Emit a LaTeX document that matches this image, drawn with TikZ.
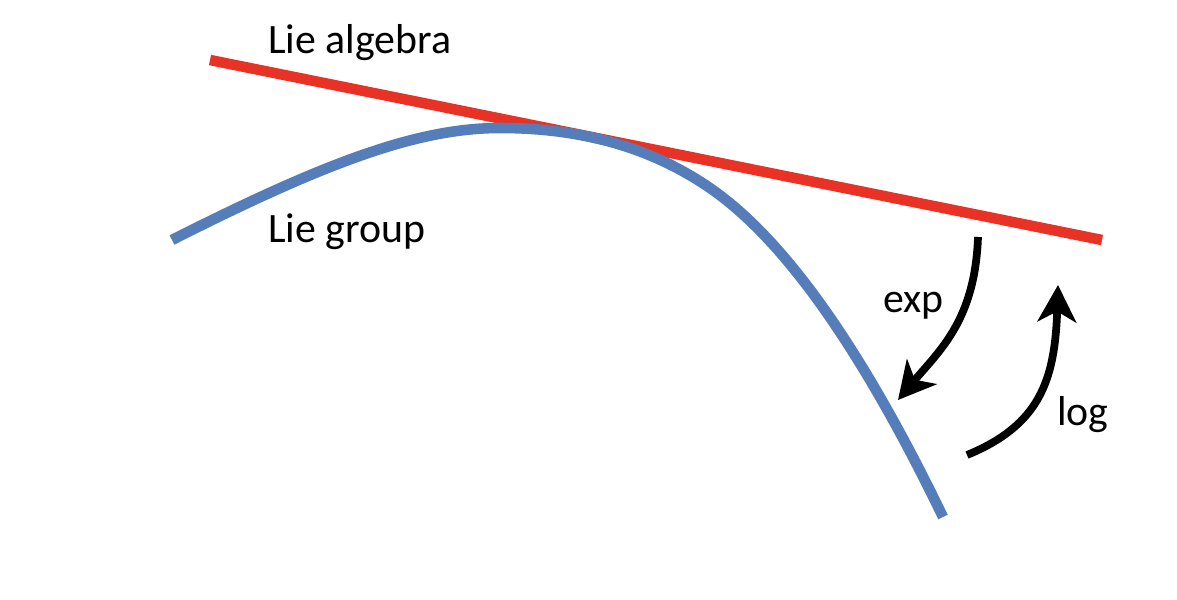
\documentclass[tikz,border=0pt]{standalone}
\usepackage{fontspec}
\setmainfont{Carlito}
\usetikzlibrary{arrows.meta}
\definecolor{algred}{RGB}{232,50,38}
\definecolor{grpblue}{RGB}{85,125,185}
\tikzset{
  lbl/.style={anchor=base west, inner sep=0pt, font=\fontsize{23.8}{28}\selectfont},
  mapar/.style={line width=4.4pt, -{Stealth[length=21pt, width=22pt, inset=6pt]}},
}
\begin{document}
\begin{tikzpicture}[x=0.02cm, y=-0.02cm]
\useasboundingbox (0,0) rectangle (1177,599);
% Lie algebra (tangent line)
\coordinate (la1) at (210,60);
\coordinate (la2) at (1102,240);
\draw[algred, line width=6pt] (la1) -- (la2);
% Lie group (curve)
\coordinate (g0) at (172,240);
\coordinate (g1) at (500,128);
\coordinate (g2) at (717,193);
\coordinate (g3) at (943,517);
\draw[grpblue, line width=6pt]
  (g0) .. controls (330,160) and (420,128) .. (g1)
       .. controls (570,128) and (647,142) .. (g2)
       .. controls (767,230) and (843,310) .. (g3);
% labels
\node[lbl] (talg) at (268,53) {Lie algebra};
\node[lbl] (tgrp) at (268,242) {Lie group};
\node[lbl] (texp) at (883,312) {exp};
\node[lbl] (tlog) at (1057,425) {log};
% exp / log arrows
\coordinate (e1) at (978,237);
\coordinate (e2) at (898,400);
\coordinate (l1) at (967,455);
\coordinate (l2) at (1058,285);
\draw[mapar] (e1) .. controls (975,320) and (940,350) .. (e2);
\draw[mapar] (l1) .. controls (1040,425) and (1055,380) .. (l2);
\end{tikzpicture}
\end{document}
